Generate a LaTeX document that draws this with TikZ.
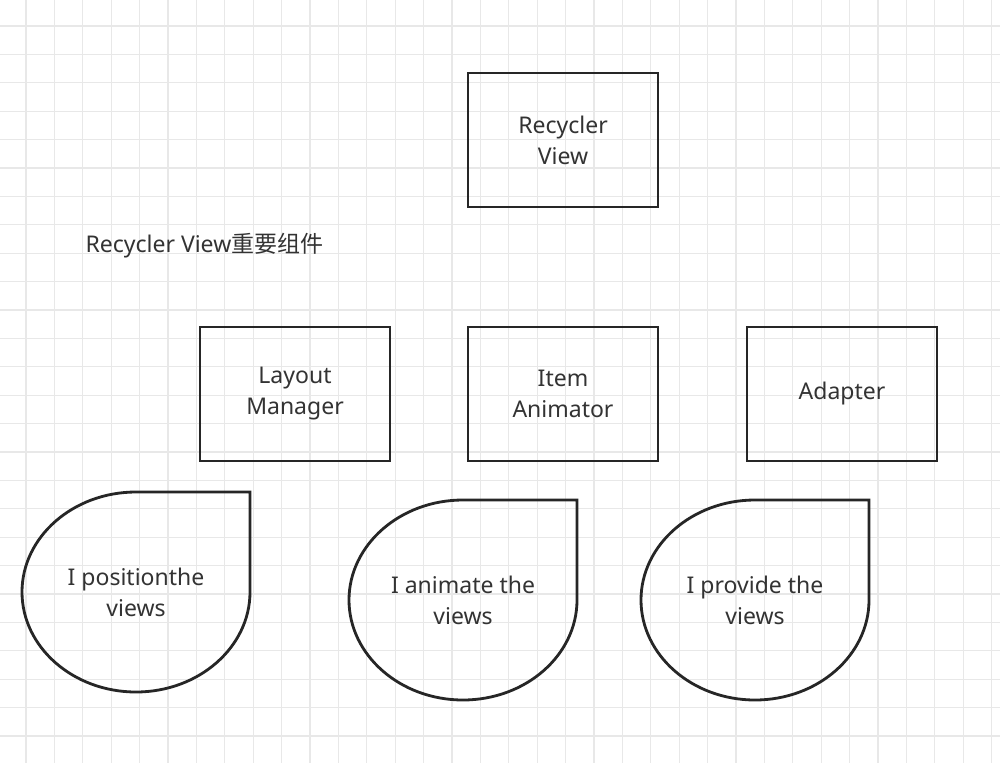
\documentclass[tikz,border=0pt]{standalone}
\usepackage{fontspec}
\setmainfont{Noto Sans}
\newfontfamily\cjk{Noto Sans CJK SC}
\begin{document}
\begin{tikzpicture}[x=1pt,y=-1pt,
  box/.style={draw=black!85,line width=2.8pt,minimum width=190pt,minimum height=134pt,align=center,font=\fontsize{23}{31}\selectfont,text=black!80},
  txt/.style={align=center,font=\fontsize{23}{31}\selectfont,text=black!80},
  drop/.style={draw=black!85,line width=2.8pt}]
\fill[white] (0,0) rectangle (1000,763);
\useasboundingbox (0,0) rectangle (1000,763);
\foreach \i in {0,...,35} {
  \pgfmathsetmacro\p{-2.4+28.4*\i}
  \draw[black!9,line width=1.3pt] (\p,0) -- (\p,763);
  \draw[black!9,line width=1.3pt] (0,\p) -- (1000,\p);
}
\node[box] (rv) at (563,140) {Recycler\\View};
\node[box] (lm) at (295,394) {Layout\\Manager};
\node[box] (ia) at (563,394) {Item\\Animator};
\node[box] (ad) at (842,394) {Adapter};
\node[txt,anchor=west] (title) at (82,246) {Recycler View{\cjk 重要组件}};
\foreach \ox/\oy/\nm/\t in {22/492/d1/{I positionthe\\views},349/500/d2/{I animate the\\views},641/500/d3/{I provide the\\views}} {
  \begin{scope}[shift={(\ox,\oy)}]
  \draw[drop] (228,0) -- (114,0) .. controls (51,0) and (0,45) .. (0,100)
     .. controls (0,155) and (51,200) .. (114,200)
     .. controls (177,200) and (228,155) .. (228,100) -- cycle;
  \node[txt] (\nm) at (114,100) {\t};
  \end{scope}
}
\end{tikzpicture}
\end{document}
